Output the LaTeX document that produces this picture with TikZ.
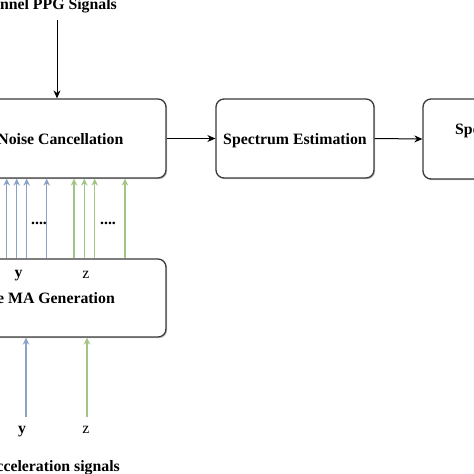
\documentclass[tikz,border=0pt]{standalone}
\usepackage{fontspec}
\setmainfont{Liberation Serif}
\usetikzlibrary{arrows.meta,shadows}
\definecolor{accblue}{HTML}{8AA2C6}
\definecolor{accgreen}{HTML}{A2C585}
\definecolor{boxline}{HTML}{3A3A3A}
\tikzset{
  blk/.style={draw=boxline, line width=1.3pt, rounded corners=8pt, fill=white,
    drop shadow={shadow xshift=1.2pt, shadow yshift=-1.2pt, fill=black!35, opacity=0.6},
    inner sep=0pt},
  lbl/.style={font=\fontsize{15.8}{18}\selectfont\bfseries, inner sep=0pt},
  lbln/.style={font=\fontsize{15.8}{18}\selectfont, inner sep=0pt},
  blackarrow/.style={draw=black, line width=1pt, -{Stealth[length=8pt,width=7pt]}},
  bluearrow/.style={draw=accblue, line width=1.1pt, -{Stealth[length=7pt,width=6.5pt]}},
  greenarrow/.style={draw=accgreen, line width=1.1pt, -{Stealth[length=7pt,width=6.5pt]}},
}
\begin{document}
\begin{tikzpicture}[x=1pt,y=-1pt]
\useasboundingbox (0,0) rectangle (474,474);
\clip (0,0) rectangle (474,474);
\fill[white] (0,0) rectangle (474,474);

% boxes
\node[blk, minimum width=266pt, minimum height=79pt] (nc) at (33,138.5) {};
\node[blk, minimum width=158pt, minimum height=79pt] (se) at (295,138.5) {};
\node[blk, minimum width=158pt, minimum height=80pt] (sp) at (502,139) {};
\node[blk, minimum width=266pt, minimum height=78pt] (ma) at (33,298) {};

% texts
\node[lbl, anchor=base east] (tppg) at (117,9.5) {Multi-channel PPG Signals};
\node[lbl, anchor=base east] (tnc) at (123.5,144) {Noise Cancellation};
\node[lbl, anchor=base] (tse) at (295,144) {Spectrum Estimation};
\node[lbl, anchor=base west] (tsp) at (455,134) {Spectral Peak};
\node[lbl, anchor=base east] (tma) at (115,303) {Reference MA Generation};
\node[lbl, anchor=base] (ty1) at (18.5,277) {y};
\node[lbln, anchor=base] (tz1) at (86,278) {z};
\node[lbl, anchor=base] (dots1) at (39,224) {....};
\node[lbl, anchor=base] (dots2) at (108,224) {....};
\node[lbl, anchor=base] (ty2) at (22,433) {y};
\node[lbln, anchor=base] (tz2) at (86,433) {z};
\node[lbl, anchor=base east] (tacc) at (120,471) {Acceleration signals};

% connectors
\coordinate (ppgtop) at (57,20);
\draw[blackarrow] (ppgtop) -- (ppgtop |- nc.north);
\draw[blackarrow] (nc.east) -- (se.west);
\draw[blackarrow] (se.east) -- (sp.west);

\foreach \dx in {-26.3,-16.3,-6.3,13.7}
  \draw[bluearrow] ([xshift=\dx pt]ma.north) -- ([xshift=\dx pt]nc.south);
\foreach \dx in {41,51.3,61.7,92}
  \draw[greenarrow] ([xshift=\dx pt]ma.north) -- ([xshift=\dx pt]nc.south);

\coordinate (yin) at (26,417);
\coordinate (zin) at (87,417);
\draw[bluearrow] (yin) -- (yin |- ma.south);
\draw[greenarrow] (zin) -- (zin |- ma.south);
\end{tikzpicture}
\end{document}
